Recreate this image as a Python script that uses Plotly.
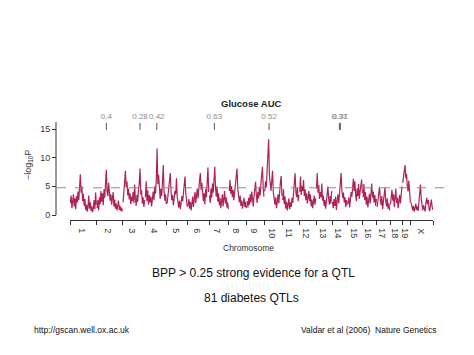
import plotly.graph_objects as go

W, H = 474, 355

chrom_names = ["1", "2", "3", "4", "5", "6", "7", "8", "9", "10",
               "11", "12", "13", "14", "15", "16", "17", "18", "19", "X"]
chrom_len = [198, 192, 165, 161, 155, 158, 146, 133, 130, 133,
             126, 124, 118, 116, 111, 104, 98, 91, 62, 167]

chr1 = [2.1, 3.4, 1.2, 2.8, 3.6, 1.5, 2.9, 1.0, 3.3, 2.2, 4.1, 2.6, 4.8, 7.1, 3.9, 5.0, 2.4, 3.7, 1.6, 2.8, 0.9, 1.8, 0.6, 1.4, 3.4, 1.1, 2.2, 0.7, 1.5, 0.5, 1.2, 2.6, 1.0, 3.9, 1.8]
chr2 = [1.2, 2.6, 0.8, 3.1, 1.9, 4.2, 2.3, 3.8, 1.7, 4.5, 3.0, 5.2, 7.9, 4.1, 3.3, 5.6, 4.4, 2.5, 3.6, 1.8, 2.9, 4.0, 1.5, 2.7, 1.1, 2.0, 0.8, 1.7, 2.5, 0.9, 1.6, 0.7, 1.3, 0.6]
chr3 = [2.2, 3.9, 5.6, 7.7, 4.8, 5.9, 3.4, 4.6, 2.7, 3.8, 1.9, 3.2, 2.4, 4.0, 2.1, 5.3, 2.8, 1.6, 3.5, 2.3, 4.4, 5.5, 8.1, 3.6, 4.3, 2.0, 3.1, 1.4, 2.6]
chr4 = [3.1, 5.9, 2.4, 4.3, 1.8, 3.5, 2.2, 3.2, 1.5, 2.9, 4.1, 2.6, 5.0, 3.7, 6.2, 11.6, 5.4, 7.0, 3.9, 2.8, 4.6, 3.3, 5.8, 8.7, 4.2, 2.5, 3.6, 1.9]
chr5 = [2.0, 3.4, 4.8, 5.9, 7.3, 4.1, 2.6, 3.5, 1.7, 2.9, 4.2, 3.6, 6.4, 3.1, 2.2, 1.3, 2.5, 1.0, 2.0, 3.3, 2.4, 4.0, 5.2, 6.7, 3.8, 2.1, 1.4]
chr6 = [1.6, 2.8, 1.1, 2.3, 0.8, 1.9, 3.2, 1.4, 2.6, 4.0, 2.1, 3.5, 4.6, 2.9, 5.1, 6.0, 7.3, 4.4, 5.6, 3.2, 2.4, 3.8, 1.9, 4.5, 3.1, 5.7, 8.3, 4.0]
chr7 = [3.4, 2.1, 4.6, 3.0, 5.5, 3.9, 6.1, 8.4, 4.7, 3.2, 5.0, 2.3, 3.8, 1.7, 2.9, 1.2, 2.4, 3.6, 1.5, 2.7, 4.2, 2.0, 3.1, 1.3, 2.2, 1.0]
chr8 = [4.2, 6.1, 3.7, 5.0, 3.1, 4.4, 2.6, 3.9, 5.2, 6.6, 8.1, 4.5, 3.0, 2.2, 3.4, 1.6, 2.5, 1.1, 2.0, 3.0, 1.4, 2.3, 1.2]
chr9 = [2.4, 1.3, 3.0, 1.8, 3.6, 2.2, 4.1, 2.7, 1.5, 3.3, 4.6, 5.8, 3.5, 2.1, 4.0, 2.9, 4.9, 3.4, 5.5, 6.8, 8.4, 4.7, 3.2]
chr10 = [4.1, 5.9, 4.8, 7.6, 9.5, 13.2, 6.9, 5.3, 4.2, 6.0, 7.7, 3.9, 2.6, 1.8, 3.1, 1.2, 2.3, 3.6, 2.0, 4.4, 5.7, 6.8, 3.3]
chr11 = [2.6, 4.5, 1.9, 3.2, 1.1, 2.3, 0.8, 1.7, 2.9, 1.0, 2.2, 1.4, 3.0, 2.1, 3.8, 5.2, 7.3, 4.0, 3.1, 4.8, 2.4, 3.5]
chr12 = [4.0, 6.7, 3.5, 5.0, 4.2, 6.1, 3.3, 4.5, 2.6, 3.8, 2.0, 3.1, 4.2, 2.4, 3.6, 1.5, 2.7, 1.2, 2.3, 3.4, 1.8, 2.9]
chr13 = [4.6, 7.3, 3.9, 5.2, 2.8, 4.0, 3.1, 5.5, 2.5, 3.4, 1.6, 2.6, 1.1, 2.2, 3.7, 5.0, 2.9, 1.8, 3.3, 2.0, 4.2]
chr14 = [2.3, 1.2, 2.8, 1.6, 3.2, 0.9, 2.4, 3.6, 2.0, 4.1, 5.3, 7.3, 4.4, 3.0, 3.9, 2.2, 3.1, 1.4, 2.6, 1.8]
chr15 = [2.0, 3.1, 1.3, 2.7, 4.0, 3.2, 5.1, 6.3, 4.2, 5.9, 3.5, 2.4, 4.6, 3.3, 5.4, 2.8, 4.1, 5.6, 6.2, 3.8]
chr16 = [3.1, 5.4, 2.6, 4.0, 1.8, 3.2, 1.3, 2.5, 3.7, 2.0, 4.3, 5.5, 3.0, 4.1, 2.2, 3.5, 1.6, 2.8]
chr17 = [1.4, 2.6, 4.1, 4.9, 2.8, 1.7, 3.3, 1.0, 2.3, 3.6, 4.8, 2.5, 1.5, 2.9, 1.1, 2.0, 0.8]
chr18 = [1.8, 3.2, 4.4, 2.5, 3.6, 1.4, 2.7, 4.6, 2.1, 3.0, 1.2, 2.4, 3.5, 2.0, 3.9, 5.0]
chr19 = [5.6, 6.8, 7.9, 8.7, 6.4, 7.2, 5.0, 4.1, 6.0, 3.3, 2.2]
chrX = [2.2, 1.3, 0.8, 1.6, 0.6, 1.2, 2.0, 0.9, 1.5, 0.7, 2.4, 3.8, 5.3, 2.9, 1.4, 0.8, 1.7, 1.0, 0.6, 2.1, 3.0, 1.9, 2.6, 1.1, 0.7, 1.8, 2.7, 1.4, 0.9]

lod_by_chrom = [chr1, chr2, chr3, chr4, chr5, chr6, chr7, chr8, chr9, chr10,
                chr11, chr12, chr13, chr14, chr15, chr16, chr17, chr18, chr19, chrX]

threshold = 4.75

qtl_chrom = ["2", "3", "4", "7", "10", "14", "14"]
qtl_pos = [71, 128, 87, 39, 35, 54, 61]
qtl_bpp = ["0.4", "0.28", "0.42", "0.63", "0.52", "0.37", "0.31"]

# cumulative offsets
offsets = []
acc = 0
for L in chrom_len:
    offsets.append(acc)
    acc += L
total = acc
boundaries = offsets + [total]
mids = [o + L / 2 for o, L in zip(offsets, chrom_len)]

xs, ys = [], []
for o, L, vals in zip(offsets, chrom_len, lod_by_chrom):
    n = len(vals)
    for j, v in enumerate(vals):
        xs.append(o + (j + 0.5) / n * L)
        ys.append(v)
    xs.append(None)
    ys.append(None)

qx = [offsets[chrom_names.index(c)] + p for c, p in zip(qtl_chrom, qtl_pos)]

FONT = "Liberation Sans, Arial, Helvetica, sans-serif"

fig = go.Figure()
fig.add_trace(go.Scatter(x=xs, y=ys, mode="lines",
                         line=dict(color="#ad2358", width=1.2),
                         hoverinfo="skip", showlegend=False))
fig.add_trace(go.Scatter(x=qx, y=[15.45] * len(qx), mode="markers",
                         marker=dict(symbol="line-ns", size=5,
                                     line=dict(color="#555555", width=1)),
                         hoverinfo="skip", showlegend=False, cliponaxis=False))
fig.add_trace(go.Scatter(x=qx, y=[17.1] * len(qx), mode="text",
                         text=qtl_bpp, textposition="middle center",
                         textfont=dict(family=FONT, size=8, color="#8c8c8c"),
                         hoverinfo="skip", showlegend=False, cliponaxis=False))

px_x = lambda p: p / W
px_y = lambda p: 1 - p / H

def note(text, x, y, size, color="#111111", xanchor="center", angle=0):
    return dict(text=text, x=px_x(x), y=px_y(y), xref="paper", yref="paper",
                xanchor=xanchor, yanchor="middle", showarrow=False, textangle=angle,
                font=dict(family=FONT, size=size, color=color))

fig.update_layout(
    width=W, height=H,
    margin=dict(l=0, r=0, t=0, b=0, autoexpand=False),
    paper_bgcolor="white", plot_bgcolor="white",
    font=dict(family=FONT, color="#333333"),
    xaxis=dict(domain=[px_x(70), px_x(433.3)], range=[0, total],
               automargin=False,
               showgrid=False, zeroline=False,
               showline=True, linecolor="#333333", linewidth=1,
               tickmode="array", tickvals=mids, ticktext=chrom_names,
               ticks="", ticklen=0, ticklabelstandoff=1,
               tickfont=dict(family=FONT, size=9, color="#333333"),
               minor=dict(tickmode="array", tickvals=boundaries,
                          ticks="outside", ticklen=4, tickwidth=1,
                          tickcolor="#333333", showgrid=False)),
    yaxis=dict(domain=[px_y(220), px_y(110)], range=[-0.872, 18.315],
               anchor="free", position=px_x(56), automargin=False,
               showgrid=False, zeroline=False, showline=False,
               tickmode="array", tickvals=[0, 5, 10, 15],
               ticks="outside", ticklen=4, tickwidth=1, tickcolor="#333333",
               tickfont=dict(family=FONT, size=9, color="#333333")),
    shapes=[
        dict(type="line", xref="paper", yref="y", x0=px_x(56), x1=px_x(56),
             y0=0, y1=16.2, line=dict(color="#333333", width=1)),
        dict(type="line", xref="paper", yref="y", x0=px_x(57), x1=px_x(445),
             y0=threshold, y1=threshold,
             line=dict(color="#8a8a8a", width=1, dash="dash")),
    ],
    annotations=[
        note("<b>Glucose AUC</b>", 251, 103, 9.5, "#222222"),
        note("−log<sub>10</sub>P", 28, 165, 9, "#333333", angle=-90),
        note("Chromosome", 248, 248, 8.5, "#333333"),
        note("BPP > 0.25 strong evidence for a QTL", 253, 273, 12),
        note("81 diabetes QTLs", 252, 298, 12),
        note("http://gscan.well.ox.ac.uk", 31.5, 330, 8.5, xanchor="left"),
        note("Valdar et al (2006)  Nature Genetics", 438, 330, 8.5, xanchor="right"),
    ],
)

fig.write_html("out.html", config={"displayModeBar": False},
               post_script="document.body.style.margin='0';document.body.style.padding='0';")
